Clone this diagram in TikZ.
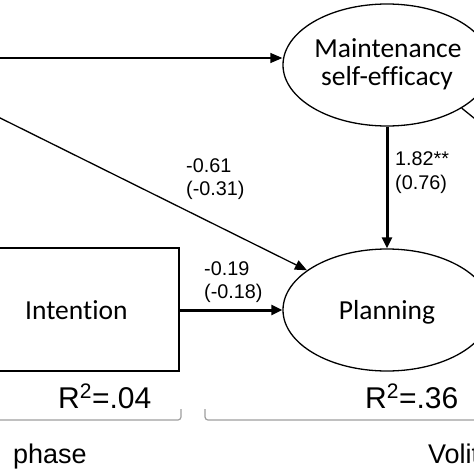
\documentclass[tikz,border=0pt]{standalone}
\usepackage{fontspec}
\setmainfont{Liberation Sans}
\newfontfamily\calib[Ligatures=NoCommon]{Carlito}
\usetikzlibrary{shapes.geometric,arrows.meta}
\tikzset{
  latent/.style={draw, ellipse, line width=1.3pt, minimum width=208pt, minimum height=122pt, inner sep=0pt},
  obsbox/.style={draw, rectangle, line width=1.3pt, minimum width=209pt, minimum height=123pt, inner sep=0pt},
  nodetext/.style={font=\calib\fontsize{27.5}{28}\selectfont, anchor=base, inner sep=0pt},
  coef/.style={font=\fontsize{19.8}{22}\selectfont, anchor=base west, inner sep=0pt},
  rsq/.style={font=\fontsize{30}{34}\selectfont, anchor=base west, inner sep=0pt},
  phasetext/.style={font=\fontsize{27}{30}\selectfont, anchor=base west, inner sep=0pt},
  thinarrow/.style={line width=1.3pt, -{Triangle[length=12pt,width=10pt]}},
  thickarrow/.style={line width=3pt, -{Triangle[length=11pt,width=10pt]}},
  bracket/.style={draw=gray!75, line width=1.2pt},
}
\begin{document}
\begin{tikzpicture}[x=1pt,y=-1pt]
\useasboundingbox (0,0) rectangle (474,474);
\clip (0,0) rectangle (474,474);
\fill[white] (0,0) rectangle (474,474);

% nodes
\node[latent] (mse) at (387,65) {};
\node[nodetext] (mset1) at (388,57) {Maintenance};
\node[nodetext] (mset2) at (387,85) {self-efficacy};

\node[latent] (plan) at (387,310) {};
\node[nodetext] (plant) at (387,319) {Planning};

\node[obsbox] (int) at (74.5,309.5) {};
\node[nodetext, anchor=base west] (intt) at (25,319) {Intention};

% connectors
\coordinate (topstart) at (-20,58);
\coordinate (diagstart) at (-20,108);
\coordinate (rightend) at (495,135);
\draw[thinarrow] (topstart) -- (topstart -| mse.west);
\draw[thinarrow] (diagstart) -- (plan);
\draw[thickarrow] (int.east |- plan.west) -- (plan.west);
\draw[thickarrow] (mse.south) -- (plan.north);
\draw[line width=1.3pt] (mse.-30) -- (rightend);

% coefficients
\node[coef] (c1a) at (186,172) {-0.61};
\node[coef] (c1b) at (186,195) {(-0.31)};
\node[coef] (c2a) at (204,275) {-0.19};
\node[coef] (c2b) at (204,298) {(-0.18)};
\node[coef] (c3a) at (395,165) {1.82**};
\node[coef] (c3b) at (395,189) {(0.76)};

% R squared
\node[rsq] (r1) at (58,408) {R\textsuperscript{2}=.04};
\node[rsq] (r2) at (365,408) {R\textsuperscript{2}=.36};

% brackets
\draw[bracket] (-10,420) -- (178,420) to[out=0,in=-90] (181,417) -- (181,409);
\draw[bracket] (205,409) -- (205,417) to[out=-90,in=180] (208,420) -- (490,420);

% phase labels
\node[phasetext] (ph1) at (13,463) {phase};
\node[phasetext] (ph2) at (428,463) {Volitional};
\end{tikzpicture}
\end{document}
